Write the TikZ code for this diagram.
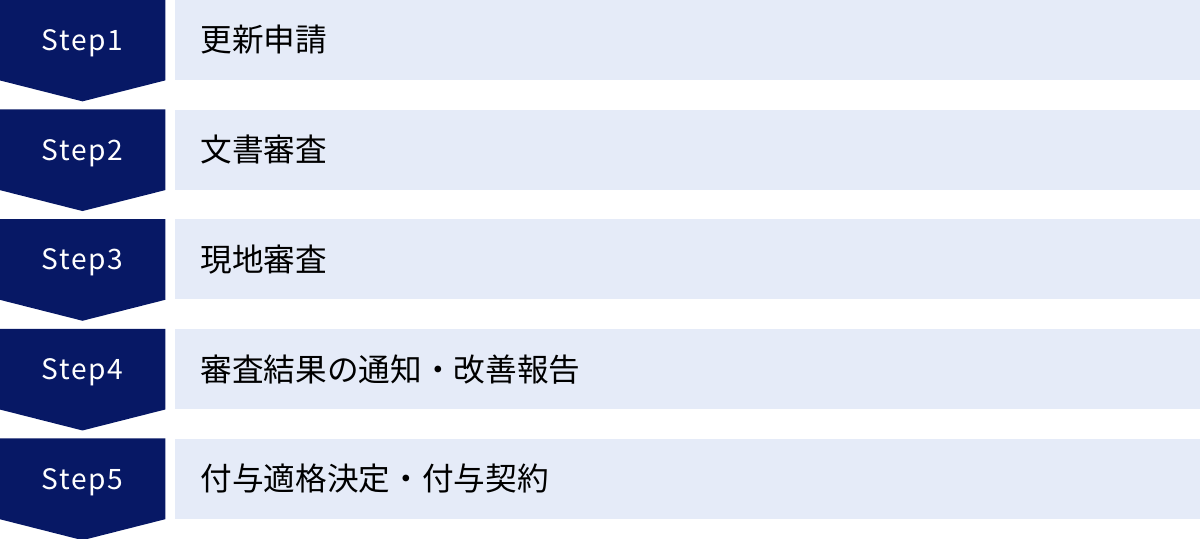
\documentclass[tikz,border=0pt]{standalone}
\usepackage{fontspec}
\setmainfont{Noto Sans CJK JP}
\newfontfamily\stepfont[LetterSpace=6]{Noto Sans CJK JP}
\usetikzlibrary{positioning,backgrounds}
\definecolor{stepnavy}{HTML}{071865}
\definecolor{rowblue}{HTML}{E5EBF8}
\tikzstyle{stepbox} = [rectangle, minimum height=1.6cm, minimum width=3.3cm, inner sep=0pt, text depth=0pt, text=white, font={\stepfont\fontsize{16pt}{18pt}\selectfont}]
\tikzstyle{rowbox} = [fill=rowblue, rectangle, minimum height=1.6cm, inner xsep=0.52cm, inner ysep=0pt, text width=19.48cm, align=left, font={\fontsize{18pt}{22pt}\selectfont}]
\newcommand{\steptip}[1]{\fill [stepnavy] (#1.north west) -- (#1.north east) -- (#1.south east) -- ([yshift=-0.42cm]#1.south) -- (#1.south west) -- cycle;}

\begin{document}
\begin{tikzpicture}[node distance=0.58cm]
    \useasboundingbox (0,0) rectangle (24,-10.76);
    \node [stepbox] (s1) at (1.65,-0.8) {Step1};
    \node [stepbox, below=of s1] (s2) {Step2};
    \node [stepbox, below=of s2] (s3) {Step3};
    \node [stepbox, below=of s3] (s4) {Step4};
    \node [stepbox, below=of s4] (s5) {Step5};
    \begin{scope}[on background layer]
        \steptip{s1} \steptip{s2} \steptip{s3} \steptip{s4} \steptip{s5}
    \end{scope}

    % Rows on the right
    \node [rowbox, right=0.18cm of s1] (r1) {更新申請};
    \node [rowbox, right=0.18cm of s2] (r2) {文書審査};
    \node [rowbox, right=0.18cm of s3] (r3) {現地審査};
    \node [rowbox, right=0.18cm of s4] (r4) {審査結果の通知・改善報告};
    \node [rowbox, right=0.18cm of s5] (r5) {付与適格決定・付与契約};
\end{tikzpicture}
\end{document}
